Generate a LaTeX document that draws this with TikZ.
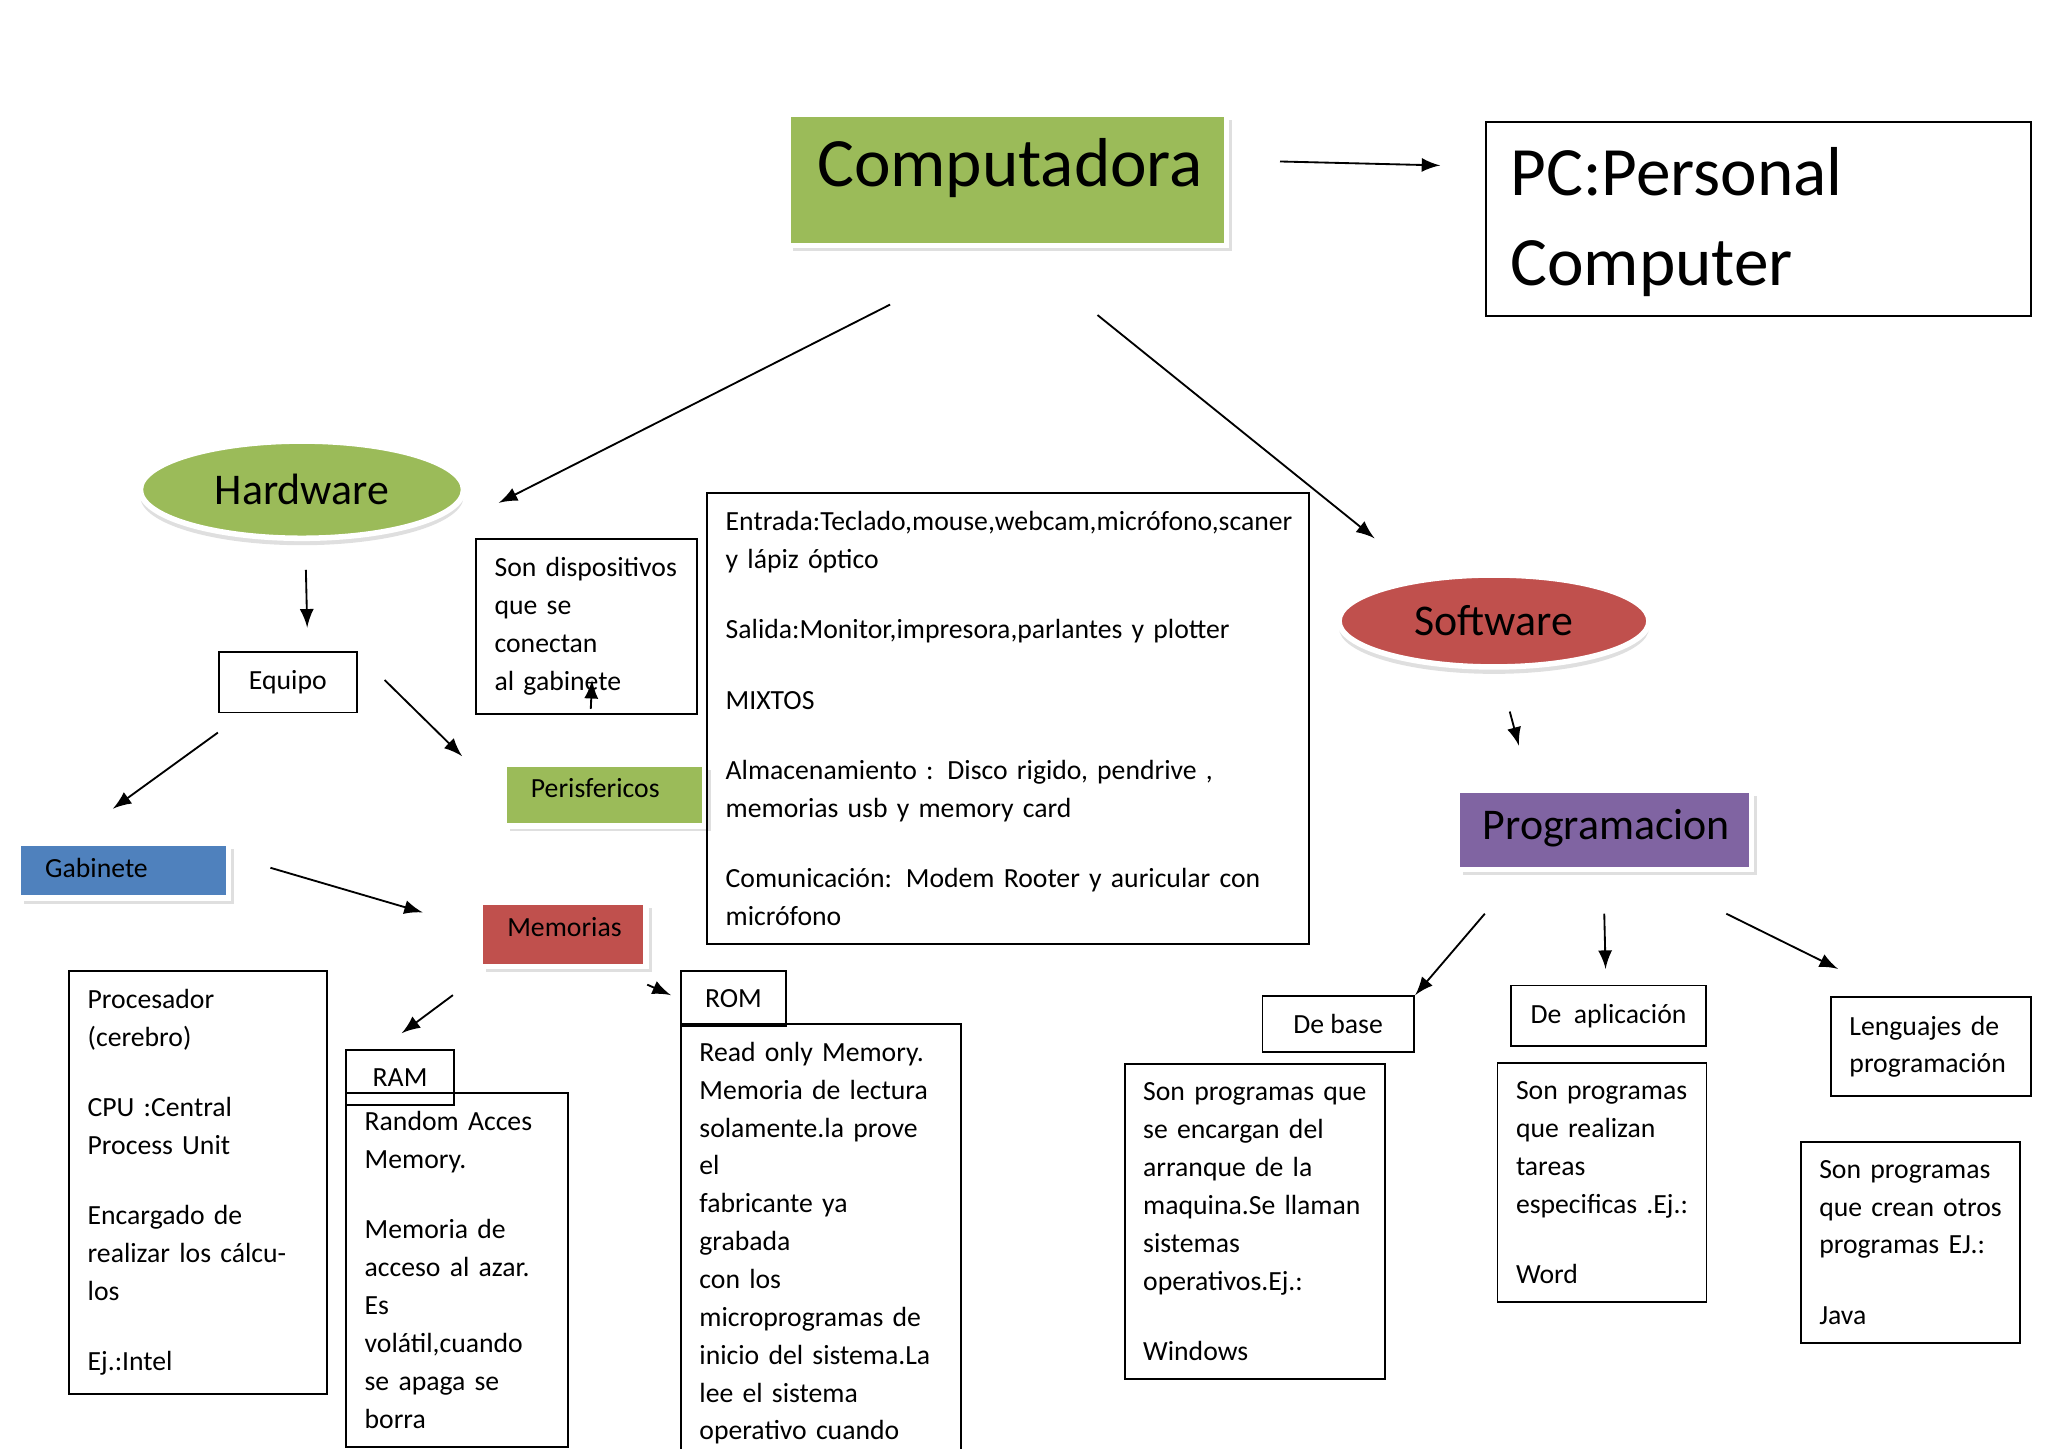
\documentclass[tikz,border=0pt]{standalone}
\usepackage{fontspec}
\setmainfont{Carlito}
\usetikzlibrary{shadows,shapes.geometric}
\tikzset{
  arr/.style={-latex, thin},
  colbox/.style={draw=white, line width=1.2pt, drop shadow={shadow xshift=1.2pt, shadow yshift=-1.2pt, fill=black!25}, anchor=north west, inner sep=0pt},
  txtbox/.style={draw, thin, anchor=north west, align=left, inner xsep=4pt, inner ysep=4pt, font=\fontsize{6}{8.2}\selectfont},
  small/.style={font=\fontsize{6}{8.2}\selectfont},
}
\definecolor{cgreen}{RGB}{155,187,89}
\definecolor{cred}{RGB}{192,80,77}
\definecolor{cblue}{RGB}{79,129,189}
\definecolor{cpurple}{RGB}{128,100,162}
\begin{document}
\begin{tikzpicture}[x=0.01cm, y=-0.01cm]
  \useasboundingbox (0,0) rectangle (1560,1103);

  % top
  \node[colbox, fill=cgreen, minimum width=3.34cm, minimum height=1.0cm] (comp) at (598,85) {};
  \node[anchor=west, font=\fontsize{15}{18}\selectfont] at (610,128) {Computadora};
  \node[txtbox, minimum width=4.15cm, minimum height=1.48cm] (pc) at (1131,92) {};
  \node[anchor=north west, align=left, font=\fontsize{15}{19.5}\selectfont] at (1138,100) {PC:Personal\\Computer};

  % hardware side
  \node[ellipse, draw=white, line width=1.2pt, fill=cgreen, minimum width=2.46cm, minimum height=0.74cm, drop shadow={shadow xshift=0pt, shadow yshift=-1.5pt, fill=black!25}, font=\fontsize{9.5}{12}\selectfont] (hw) at (230,373) {Hardware};
  \node[txtbox, minimum width=1.05cm, minimum height=0.45cm] (equipo) at (166,496) {Equipo};
  \node[colbox, fill=cblue, minimum width=1.6cm, minimum height=0.42cm] (gab) at (12,640) {};
  \node[small, anchor=west] at (22,661) {Gabinete};
  \node[colbox, fill=cgreen, minimum width=1.53cm, minimum height=0.47cm] (peri) at (382,580) {};
  \node[small, anchor=west] at (392,600) {Perisfericos};
  \node[txtbox, text width=1.4cm, minimum height=0.95cm] (disp) at (362,410) {Son dispositivos\\que se conectan\\al gabinete};
  \node[txtbox, text width=4.3cm, minimum height=3.2cm] (perlist) at (538,375) {Entrada:Teclado,mouse,webcam,micrófono,scaner\\y lápiz óptico\\[7pt]Salida:Monitor,impresora,parlantes y plotter\\[7pt]MIXTOS\\[7pt]Almacenamiento : Disco rigido, pendrive ,\\memorias usb y memory card\\[7pt]Comunicación: Modem Rooter y auricular con\\micrófono};
  \node[colbox, fill=cred, minimum width=1.26cm, minimum height=0.49cm] (mem) at (364,685) {};
  \node[small, anchor=west] at (374,706) {Memorias};
  \node[txtbox, text width=1.68cm, minimum height=2.79cm] (proc) at (52,739) {Procesador\\(cerebro)\\[7pt]CPU :Central\\Process Unit\\[7pt]Encargado de\\realizar los cálculos\\[7pt]Ej.:Intel};
  \node[txtbox, minimum width=0.82cm, minimum height=0.33cm] (ramtab) at (263,799) {RAM};
  \node[txtbox, text width=1.41cm, minimum height=2.29cm] (ram) at (263,832) {Random Acces\\Memory.\\[7pt]Memoria de\\acceso al azar.\\Es volátil,cuando\\se apaga se\\borra};
  \node[txtbox, minimum width=0.8cm, minimum height=0.4cm] (romtab) at (518,739) {ROM};
  \node[txtbox, text width=1.85cm, minimum height=3.24cm] (rom) at (518,779) {Read only Memory.\\Memoria de lectura\\solamente.la prove el\\fabricante ya grabada\\con los\\microprogramas de\\inicio del sistema.La\\lee el sistema\\operativo cuando\\arranca la\\computadora};

  % software side
  \node[ellipse, draw=white, line width=1.2pt, fill=cred, minimum width=2.36cm, minimum height=0.7cm, drop shadow={shadow xshift=0pt, shadow yshift=-1.5pt, fill=black!25}, font=\fontsize{9.5}{12}\selectfont] (sw) at (1138,473) {Software};
  \node[colbox, fill=cpurple, minimum width=2.24cm, minimum height=0.6cm] (prog) at (1108,600) {};
  \node[anchor=west, font=\fontsize{9.5}{12}\selectfont] at (1117,631) {Programacion};
  \node[txtbox, minimum width=1.15cm, minimum height=0.42cm] (base) at (961,758) {De base};
  \node[txtbox, minimum width=1.49cm, minimum height=0.46cm] (apli) at (1150,750) {De\ \ aplicación};
  \node[txtbox, text width=1.24cm, minimum height=0.73cm] (leng) at (1394,759) {Lenguajes de\\programación};
  \node[txtbox, text width=1.7cm, minimum height=2.35cm] (basetx) at (856,810) {Son programas que\\se encargan del\\arranque de la\\maquina.Se llaman\\sistemas\\operativos.Ej.:\\[7pt]Windows};
  \node[txtbox, text width=1.31cm, minimum height=1.8cm] (aplitx) at (1140,809) {Son programas\\que realizan\\tareas\\especificas .Ej.:\\[7pt]Word};
  \node[txtbox, text width=1.39cm, minimum height=1.49cm] (lengtx) at (1371,869) {Son programas\\que crean otros\\programas EJ.:\\[7pt]Java};

  % arrow ends
  \coordinate (c1) at (975,123);  \coordinate (c2) at (1097,126);
  \coordinate (c3) at (678,232);  \coordinate (c4) at (380,383);
  \coordinate (c5) at (836,240);  \coordinate (c6) at (1047,410);
  \coordinate (h1) at (233,434);  \coordinate (h2) at (234,478);
  \coordinate (e1) at (166,558);  \coordinate (e2) at (86,616);
  \coordinate (e3) at (293,518);  \coordinate (e4) at (352,576);
  \coordinate (p1) at (450,540);  \coordinate (p2) at (451,518);
  \coordinate (g1) at (206,661);  \coordinate (g2) at (322,695);
  \coordinate (m1) at (345,758);  \coordinate (m2) at (306,787);
  \coordinate (m3) at (493,750);  \coordinate (m4) at (511,758);
  \coordinate (s1) at (1150,542); \coordinate (s2) at (1157,568);
  \coordinate (r1) at (1131,696); \coordinate (r2) at (1078,758);
  \coordinate (r3) at (1222,696); \coordinate (r4) at (1223,738);
  \coordinate (r5) at (1315,696); \coordinate (r6) at (1400,738);

  \foreach \a/\b in {c1/c2, c3/c4, c5/c6, h1/h2, e1/e2, e3/e4, p1/p2, g1/g2, m1/m2, m3/m4, s1/s2, r1/r2, r3/r4, r5/r6}
    \draw[arr] (\a) -- (\b);

\end{tikzpicture}
\end{document}
